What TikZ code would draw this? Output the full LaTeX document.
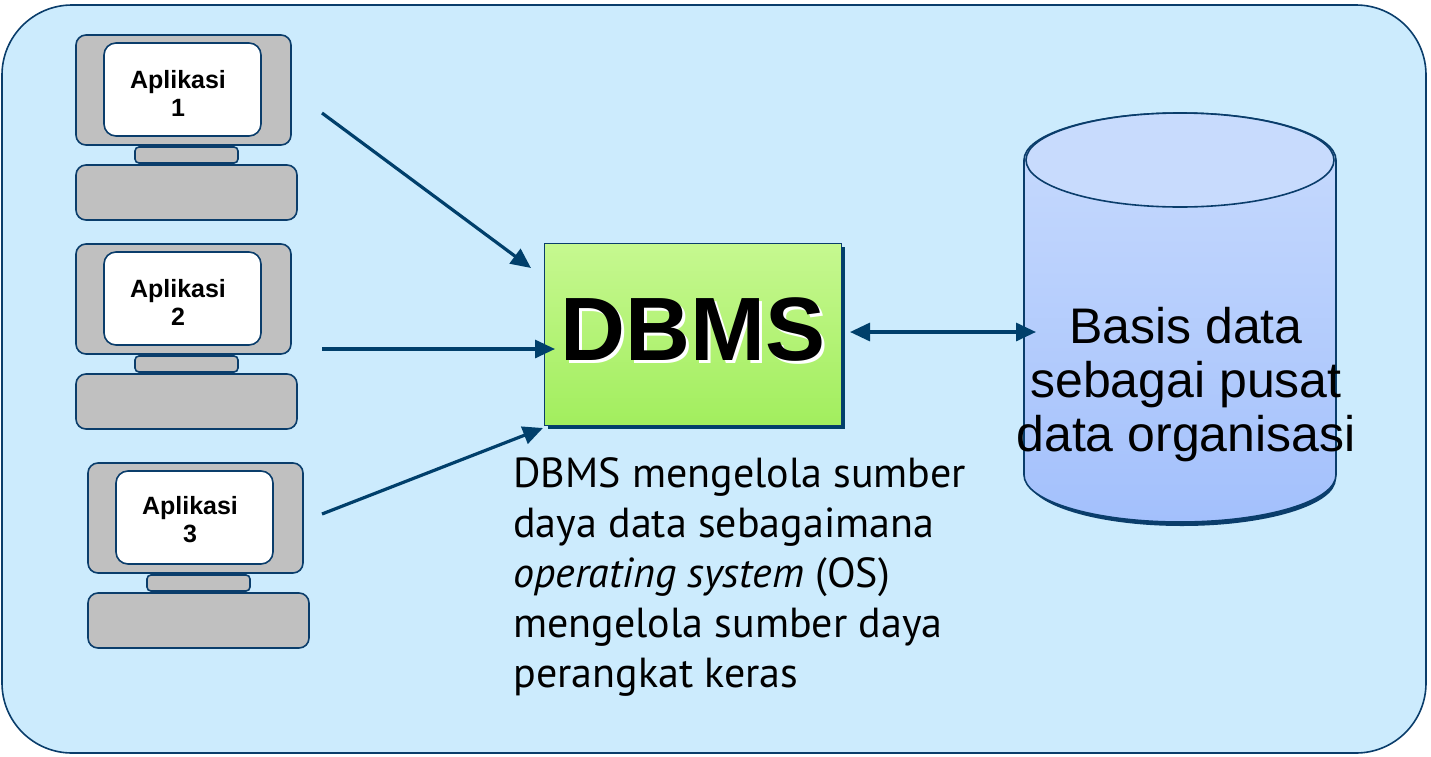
\documentclass[tikz,border=0pt]{standalone}
\usepackage{fontspec}
\setmainfont{Liberation Sans}
\newfontfamily\descfont{PT Sans}
\usetikzlibrary{arrows.meta,shapes.geometric}
\definecolor{bg}{HTML}{CCEBFD}
\definecolor{edge}{HTML}{0A3D6B}
\definecolor{arr}{HTML}{003F6B}
\definecolor{grayc}{HTML}{C0C0C0}
\definecolor{cyltop}{HTML}{C8DBFD}
\definecolor{cylbot}{HTML}{A3C0FC}
\definecolor{gtop}{HTML}{C6F890}
\definecolor{gbot}{HTML}{A2EE5E}
\begin{document}
\begin{tikzpicture}[x=0.5pt,y=-0.5pt,
  part/.style={draw=edge,fill=grayc,line width=0.8pt,rounded corners=5pt},
  scr/.style={draw=edge,fill=white,line width=0.8pt,rounded corners=6pt},
  lab/.style={font=\bfseries\fontsize{12.5}{14}\selectfont,align=center},
  tip/.style={Triangle[length=10pt,width=9pt]},
  conn/.style={draw=arr,line width=1.6pt,-{Triangle[length=10pt,width=9pt]}}]
\useasboundingbox (0,0) rectangle (1431,756);
\draw[edge,fill=bg,line width=0.8pt,rounded corners=35pt] (2,5) rectangle (1426,753);
% computers
\foreach \dx/\dy in {0/0,0/209,12/428}{
 \begin{scope}[shift={(\dx,\dy)}]
  \draw[part] (76,35) rectangle (291,145);
  \draw[part,rounded corners=2pt] (135,147) rectangle (238,163);
  \draw[part] (76,165) rectangle (297,220);
  \draw[scr] (104,43) rectangle (261,136);
 \end{scope}}
\node[lab] (a1) at (178,93) {Aplikasi\\1};
\node[lab] (a2) at (178,302) {Aplikasi\\2};
\node[lab] (a3) at (190,520) {Aplikasi\\3};
\coordinate (s1) at (322,113); \coordinate (e1) at (531,268);
\coordinate (s2) at (322,349); \coordinate (e2) at (555,349);
\coordinate (s3) at (322,514); \coordinate (e3) at (543,428);
% DBMS
\fill[arr] (548,247) rectangle (845,429);
\shade[top color=gtop,bottom color=gbot,draw=edge] (544,243) rectangle (841,425);
\node[font=\bfseries\fontsize{45}{50}\selectfont,white] at (696,333) {DBMS};
\node[font=\bfseries\fontsize{45}{50}\selectfont] (dbms) at (693,330) {DBMS};
\draw[conn] (s1) -- (e1);
\draw[conn] (s2) -- (e2);
\draw[conn] (s3) -- (e3);
% cylinder
\fill[edge] (1028,164) -- (1028,479) arc[start angle=180,end angle=0,x radius=154,y radius=47] -- (1336,164) -- cycle;
\shade[top color=cyltop,bottom color=cylbot,draw=edge,line width=0.8pt] (1024,160) -- (1024,475) arc[start angle=180,end angle=0,x radius=156,y radius=47] -- (1336,160) arc[start angle=0,end angle=-180,x radius=156,y radius=47] -- cycle;
\draw[edge,line width=0.8pt,fill=cyltop] (1180,160) ellipse[x radius=154,y radius=47];
\coordinate (c1) at (850,332); \coordinate (c2) at (1036,332);
\draw[draw=arr,line width=1.6pt,{Triangle[length=10pt,width=9pt]}-{Triangle[length=10pt,width=9pt]}] (c1) -- (c2);
\node[font=\fontsize{25}{27}\selectfont,align=center] (db) at (1186,385) {Basis data\\sebagai pusat\\data organisasi};
\node[font=\descfont\fontsize{21}{25}\selectfont,align=left,anchor=north west,inner sep=0pt] (desc) at (513,457) {DBMS mengelola sumber\\daya data sebagaimana\\\textit{operating system} (OS)\\mengelola sumber daya\\perangkat keras};
\end{tikzpicture}
\end{document}
